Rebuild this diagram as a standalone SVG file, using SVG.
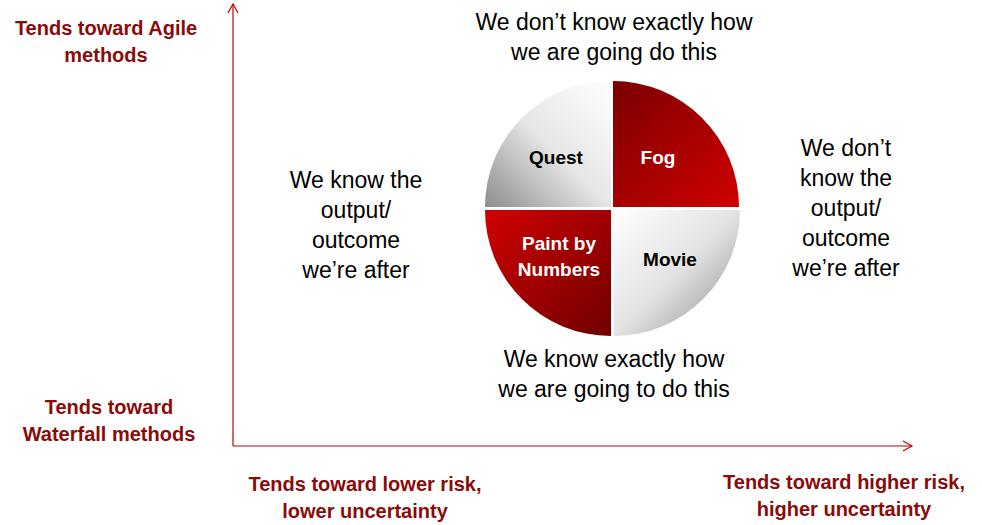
<svg xmlns="http://www.w3.org/2000/svg" width="982" height="525" viewBox="0 0 982 525">
<style>
.lab{font-family:"Liberation Sans",Arial,sans-serif;font-weight:bold;font-size:20px;fill:#8B0A0A;text-anchor:middle}
.t{font-family:"Liberation Sans",Arial,sans-serif;font-size:23px;fill:#000;text-anchor:middle}
.q{font-family:"Liberation Sans",Arial,sans-serif;font-weight:bold;font-size:19px;text-anchor:middle}
</style>
<defs>
<marker id="ar" markerWidth="12" markerHeight="12" refX="10" refY="6" orient="auto" markerUnits="userSpaceOnUse"><path d="M1,1 L10,6 L1,11" fill="none" stroke="#C00000" stroke-width="1.2"/></marker>
<linearGradient id="gq" x1="1" y1="0" x2="0" y2="1"><stop offset="0" stop-color="#ffffff"/><stop offset="0.5" stop-color="#e6e6e6"/><stop offset="1" stop-color="#8c8c8c"/></linearGradient>
<linearGradient id="gf" x1="0" y1="0" x2="1" y2="1"><stop offset="0" stop-color="#7a0000"/><stop offset="1" stop-color="#d00000"/></linearGradient>
<linearGradient id="gp" x1="0" y1="0" x2="1" y2="1"><stop offset="0" stop-color="#d00000"/><stop offset="1" stop-color="#700000"/></linearGradient>
<linearGradient id="gm" x1="0" y1="0" x2="1" y2="1"><stop offset="0" stop-color="#ffffff"/><stop offset="0.5" stop-color="#e2e2e2"/><stop offset="1" stop-color="#8a8a8a"/></linearGradient>
</defs>
<g id="connectors" stroke="#C00000" stroke-width="1.2" fill="none">
<line x1="233" y1="446" x2="233" y2="4" marker-end="url(#ar)"/>
<line x1="233" y1="446" x2="912" y2="446" marker-end="url(#ar)"/>
</g>
<g id="quest"><path d="M611,207 L611,81 A126,126 0 0 0 485,207 Z" fill="url(#gq)"/><text class="q" x="556" y="164" fill="#000">Quest</text></g>
<g id="fog"><path d="M613,207 L613,81 A126,126 0 0 1 739,207 Z" fill="url(#gf)"/><text class="q" x="658" y="164" fill="#fff">Fog</text></g>
<g id="paint"><path d="M611,210 L485,210 A126,126 0 0 0 611,336 Z" fill="url(#gp)"/><text class="q" x="559" y="250" fill="#fff">Paint by</text><text class="q" x="559" y="276" fill="#fff">Numbers</text></g>
<g id="movie"><path d="M614,210 L740,210 A126,126 0 0 1 614,336 Z" fill="url(#gm)"/><text class="q" x="670" y="266" fill="#000">Movie</text></g>
<g id="texts">
<text class="t" x="614" y="30">We don’t know exactly how</text>
<text class="t" x="614" y="60">we are going do this</text>
<text class="t" x="614" y="367">We know exactly how</text>
<text class="t" x="614" y="397">we are going to do this</text>
<text class="t" x="356" y="188">We know the</text>
<text class="t" x="356" y="218">output/</text>
<text class="t" x="356" y="248">outcome</text>
<text class="t" x="356" y="278">we’re after</text>
<text class="t" x="846" y="156">We don’t</text>
<text class="t" x="846" y="186">know the</text>
<text class="t" x="846" y="216">output/</text>
<text class="t" x="846" y="246">outcome</text>
<text class="t" x="846" y="276">we’re after</text>
</g>
<g id="labels">
<text class="lab" x="106" y="35">Tends toward Agile</text>
<text class="lab" x="106" y="62">methods</text>
<text class="lab" x="109" y="414">Tends toward</text>
<text class="lab" x="109" y="441">Waterfall methods</text>
<text class="lab" x="365" y="491">Tends toward lower risk,</text>
<text class="lab" x="365" y="518">lower uncertainty</text>
<text class="lab" x="844" y="489">Tends toward higher risk,</text>
<text class="lab" x="844" y="516">higher uncertainty</text>
</g>
</svg>
